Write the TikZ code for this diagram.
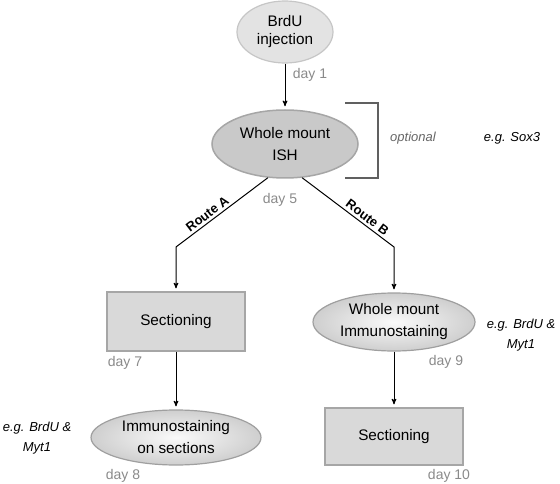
\documentclass[tikz,border=0pt]{standalone}
\usepackage{fontspec}
\setmainfont{Liberation Sans}
\usetikzlibrary{arrows,shapes.geometric}

\definecolor{boxfill}{HTML}{D9D9D9}
\definecolor{boxline}{HTML}{A6A6A6}
\definecolor{daygrey}{HTML}{8A8A8A}

\begin{document}
\begin{tikzpicture}[->,>=stealth',shorten >=3pt,node distance=112pt,line width=1pt,x=1pt,y=1pt]
        \tikzstyle{every node}=[inner sep=0pt,text=black,align=center,font=\fontsize{15.3}{22}\selectfont]
        \tikzstyle{oval}=[ellipse,draw=gray!75,line width=1.2pt,shade,inner color=gray!4,outer color=gray!38]
        \tikzstyle{box}=[rectangle,draw=boxline,line width=1.2pt,fill=boxfill,minimum width=138pt]
        \tikzstyle{daylbl}=[text=daygrey,font=\fontsize{14}{16}\selectfont]
        \tikzstyle{eg}=[font=\fontsize{13}{20}\selectfont\itshape]
        \tikzstyle{route}=[font=\fontsize{13}{15}\selectfont\bfseries,sloped,above,inner sep=2.5pt]
        \useasboundingbox (0,0) rectangle (560,-484);

        \node[ellipse,draw=gray!45,line width=1.2pt,fill=gray!22,minimum width=96pt,minimum height=62pt,
              font=\fontsize{15.3}{18}\selectfont] (inj) at (285,-32) {BrdU\\injection};
        \node[ellipse,draw=gray!70,fill=gray!42,line width=1.5pt,minimum width=146pt,
              minimum height=68pt] (ish) [below of=inj] {Whole mount\\ISH};

        \node[box,minimum height=59pt] (sec1) at (176,-321.5) {Sectioning};
        \node[oval,minimum width=170pt,minimum height=55pt] (imm1) [below of=sec1,node distance=116pt] {Immunostaining\\on sections};

        \node[oval,minimum width=162pt,minimum height=58pt] (wmi) at (394,-322) {Whole mount\\Immunostaining};
        \node[box,minimum height=57pt] (sec2) [below of=wmi,node distance=114.5pt] {Sectioning};

        \coordinate (kinkA) at (176,-247);
        \coordinate (kinkB) at (394,-247);

        % days
        \node[daylbl] (d1)  at (310,-75)  {day 1};
        \node[daylbl] (d5)  at (280,-200) {day 5};
        \node[daylbl] (d7)  at (125,-363) {day 7};
        \node[daylbl] (d8)  at (123,-476) {day 8};
        \node[daylbl] (d9)  at (446,-362) {day 9};
        \node[daylbl] (d10) at (449,-476) {day 10};

        % notes
        \node[eg,text=gray!80!black] (opt) at (413,-138) {optional};
        \node[eg] (sox) at (512,-138) {e.g. Sox3};
        \node[eg] (egA) at (37,-438)  {e.g. BrdU \&\\Myt1};
        \node[eg] (egB) at (521,-335) {e.g. BrdU \&\\Myt1};

        \draw[-,shorten >=0pt,gray!75!black,line width=1.2pt] (345,-103) -- (378,-103) -- (378,-178) -- (345,-178);

        \path (inj)  edge (ish)
              (sec1) edge (imm1)
              (wmi)  edge (sec2);
        \draw (ish.243) -- node[route,pos=0.61] {Route A} (kinkA) -- (sec1);
        \draw (ish.297) -- node[route,pos=0.66] {Route B} (kinkB) -- (wmi);
      \end{tikzpicture}
\end{document}
